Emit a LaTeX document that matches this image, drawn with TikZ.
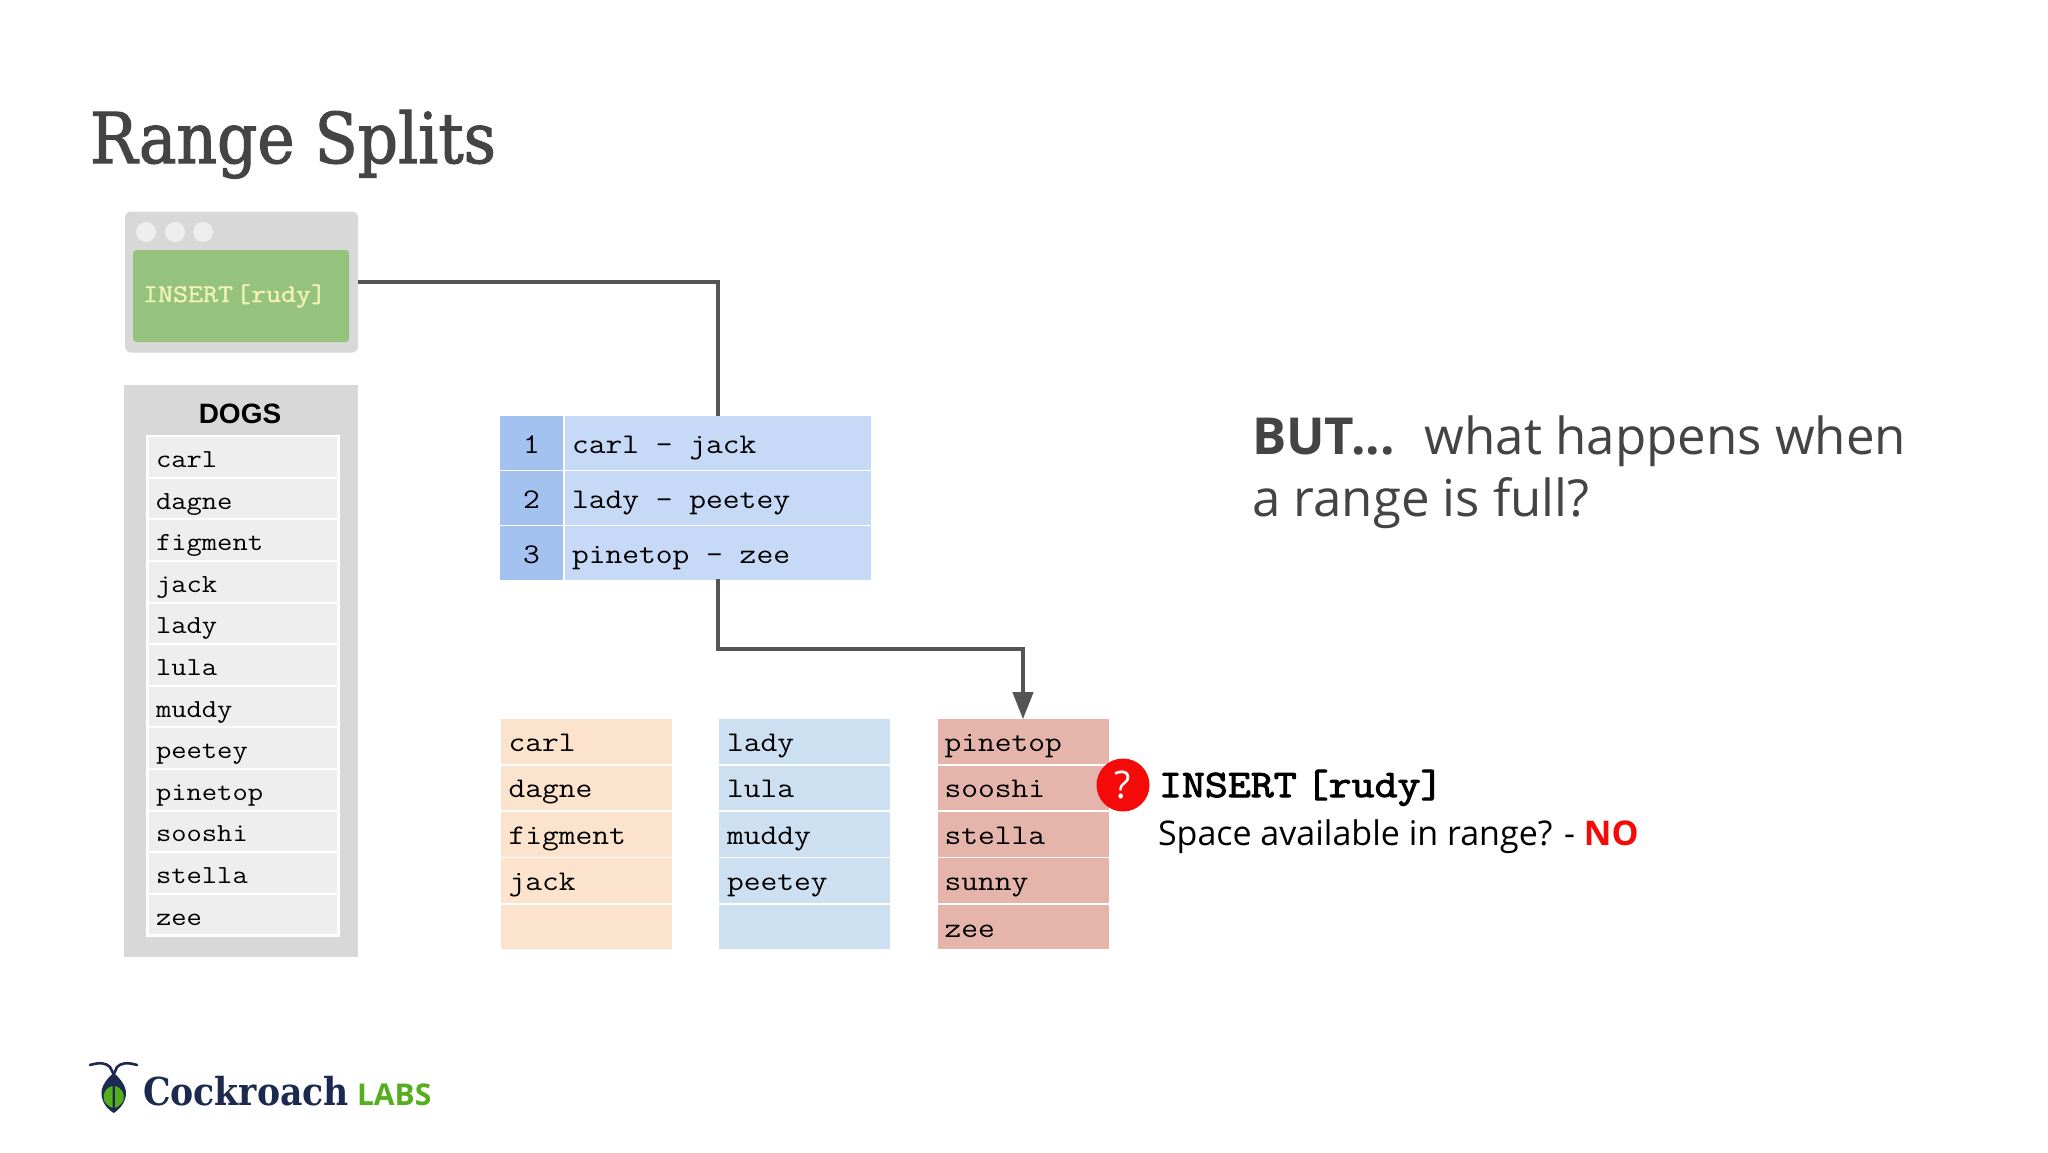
\documentclass[tikz,border=0pt]{standalone}
\usepackage{fontspec}
\usetikzlibrary{arrows.meta}
\setmainfont{Open Sans}
\newfontfamily\monof[FakeStretch=1.143]{Latin Modern Mono}
\newfontfamily\monob[FakeStretch=1.143,FakeBold=1.2]{Latin Modern Mono}
\newfontfamily\monoB[FakeStretch=1.143,FakeBold=2.5]{Latin Modern Mono}
\newfontfamily\titlef[FakeBold=1.6]{DejaVu Serif Condensed}
\newfontfamily\condslab{DejaVu Serif Condensed}
\newfontfamily\arialf{Liberation Sans}
\newcommand{\fsz}[1]{\fontsize{#1}{#1}\selectfont}
\definecolor{titlegrey}{HTML}{444444}
\definecolor{panelgrey}{HTML}{D8D8D8}
\definecolor{rowgrey}{HTML}{EEEEEE}
\definecolor{wingreen}{HTML}{95C37D}
\definecolor{winyellow}{HTML}{F2F3B5}
\definecolor{numblue}{HTML}{A4C2F0}
\definecolor{rangeblue}{HTML}{C6D9F6}
\definecolor{peach}{HTML}{FCE3CE}
\definecolor{skyb}{HTML}{CDE0F1}
\definecolor{rosey}{HTML}{E5B5AC}
\definecolor{linegrey}{HTML}{555555}
\definecolor{navy}{HTML}{1B2A4E}
\definecolor{leaf}{HTML}{55AE1E}
\definecolor{redq}{HTML}{F50A0A}
\tikzset{
  box/.style={draw=none,rectangle,inner sep=0pt,outer sep=0pt},
  conn/.style={draw=linegrey,line width=4pt,line join=miter},
  listrow/.style={box,fill=rowgrey,minimum width=188pt,minimum height=39.6pt,text height=21pt,text depth=0pt,font=\monof\fsz{26}},
  lowrow/.style={box,minimum width=171pt,minimum height=44.6pt,text height=20pt,text depth=0pt,font=\monof\fsz{28.5}},
  tabnum/.style={box,fill=numblue,minimum width=63pt,minimum height=53.5pt,text height=20pt,text depth=0pt,font=\monof\fsz{28.5}},
  tabrange/.style={box,fill=rangeblue,minimum width=306pt,minimum height=53.5pt,text height=20pt,text depth=0pt,font=\monof\fsz{28.5}},
  dot/.style={circle,fill=rowgrey,inner sep=0pt,minimum size=20pt},
  free/.style={inner sep=0pt,outer sep=0pt,anchor=base west}
}
\begin{document}
\begin{tikzpicture}[x=1pt,y=-1pt]
\useasboundingbox[fill=white] (0,0) rectangle (2048,1152);
% title
\node[free,text=titlegrey] (title) at (90,163) {\titlef\fsz{70}Range Splits};
% client window
\node[box,fill=panelgrey,rounded corners=6pt,minimum width=233pt,minimum height=141pt] (win) at (241.5,282) {};
\node[dot] (d1) at (146,232) {};
\node[dot] (d2) at (175,232) {};
\node[dot] (d3) at (203,232) {};
\node[box,fill=wingreen,rounded corners=3pt,minimum width=216pt,minimum height=92pt] (cmd) at (241,296) {};
\node[free,text=winyellow] (cmdt) at (143,302) {\monob\fsz{25.5}INSERT\hspace{3pt}[rudy]};
% DOGS panel
\node[box,fill=panelgrey,minimum width=234pt,minimum height=572pt] (dogs) at (241,671) {};
\node[free,anchor=base,font=\arialf\bfseries\fsz{28}] (dogst) at (240,423) {DOGS};
\node[box,fill=white,minimum width=194pt,minimum height=502pt] (listbg) at (243,686) {};
\foreach \t [count=\i] in {carl,dagne,figment,jack,lady,lula,muddy,peetey,pinetop,sooshi,stella,zee}{
  \pgfmathsetmacro{\yy}{457+41.6*(\i-1)}
  \node[listrow] (dog\i) at (243,\yy) {\makebox[188pt][l]{\hspace*{7pt}\t}};
}
% range table
\foreach \n/\t [count=\i] in {1/carl - jack,2/lady - peetey,3/pinetop - zee}{
  \pgfmathsetmacro{\yy}{443+55.1*(\i-1)}
  \node[tabnum] (num\i) at (531.5,\yy) {\n};
  \node[tabrange] (rng\i) at (718,\yy) {\makebox[306pt][l]{\hspace*{7pt}\t}};
}
\coordinate (tin) at (718,416);
\coordinate (tout) at (718,579);
\coordinate (bend) at (1023,649);
% lower columns
\foreach \t [count=\i] in {carl,dagne,figment,jack,{}}{
  \pgfmathsetmacro{\yy}{741.5+46.4*(\i-1)}
  \node[lowrow,fill=peach] (a\i) at (586,\yy) {\makebox[171pt][l]{\hspace*{8pt}\t}};
}
\foreach \t [count=\i] in {lady,lula,muddy,peetey,{}}{
  \pgfmathsetmacro{\yy}{741.5+46.4*(\i-1)}
  \node[lowrow,fill=skyb] (b\i) at (804.5,\yy) {\makebox[171pt][l]{\hspace*{8pt}\t}};
}
\foreach \t [count=\i] in {pinetop,sooshi,stella,sunny,zee}{
  \pgfmathsetmacro{\yy}{741.5+46.4*(\i-1)}
  \node[lowrow,fill=rosey] (c\i) at (1023,\yy) {\makebox[171pt][l]{\hspace*{7pt}\t}};
}
% connectors
\draw[conn] (win.east) -| (tin);
\draw[conn,-{Triangle[length=27pt,width=20pt]}] (tout) -- (tout |- bend) -- (bend) -- (c1.north);
% question mark and notes
\node[circle,fill=redq,inner sep=0pt,minimum size=53pt,text=white,font=\fsz{38}] (q) at (1123,785) {?};
\node[free] (ins) at (1159,797) {\monoB\fsz{39}INSERT\hspace{9pt}[rudy]};
\node[free] (space) at (1158,845) {\fsz{34}Space available in range? - \textcolor{redq}{\bfseries NO}};
\node[free,text=titlegrey] (but1) at (1252,454) {\fsz{51}\textbf{BUT...}\hspace{30pt}what happens when};
\node[free,text=titlegrey] (but2) at (1252,516) {\fsz{51}a range is full?};
% logo
\draw[navy,line width=2.6pt,line cap=round] (90,1065) .. controls (100,1062) and (106,1063) .. (110,1067) -- (114,1075);
\draw[navy,line width=2.6pt,line cap=round] (137,1065) .. controls (127,1062) and (121,1063) .. (117,1067) -- (113.5,1075);
\fill[navy] (113.7,1073) .. controls (120,1078) and (126,1086) .. (126,1093) .. controls (126,1102) and (120,1109) .. (113.7,1113) .. controls (107,1109) and (101.5,1102) .. (101.5,1093) .. controls (101.5,1086) and (107,1078) .. (113.7,1073) -- cycle;
\fill[leaf] (112.5,1086) .. controls (105,1088) and (102.5,1094) .. (104,1100) .. controls (105,1103) and (108,1106) .. (112.5,1108) -- cycle;
\fill[leaf] (115,1086) .. controls (122,1088) and (125,1094) .. (123.5,1100) .. controls (122.5,1103) and (119.5,1106) .. (115,1108) -- cycle;
\node[free,text=navy] (ck) at (143,1105) {\condslab\bfseries\fsz{38.5}Cockroach};
\node[free,text=leaf] (labs) at (357,1105) {\bfseries\fsz{30}LABS};
\end{tikzpicture}
\end{document}
